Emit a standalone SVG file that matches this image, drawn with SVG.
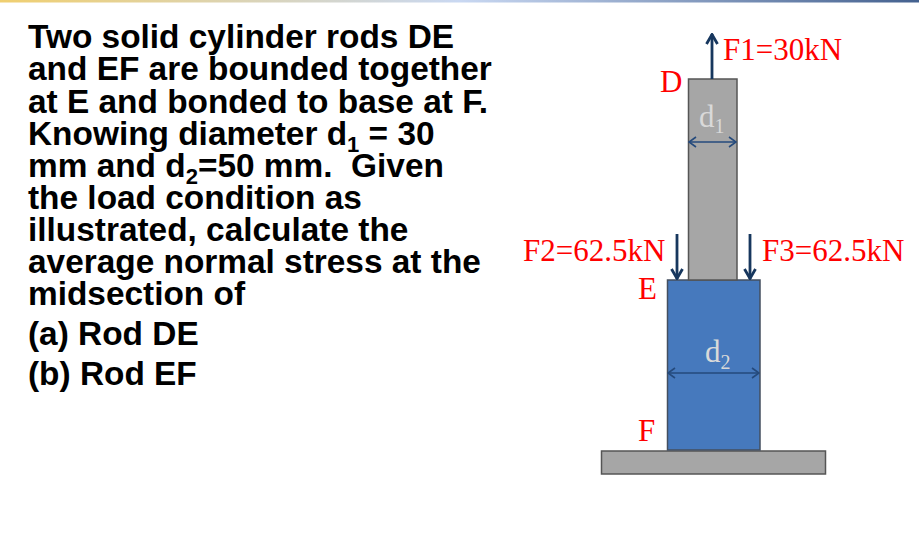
<svg xmlns="http://www.w3.org/2000/svg" width="919" height="560" viewBox="0 0 919 560">
<style>
.q{font-family:"Liberation Sans",Arial,sans-serif;font-weight:bold;font-size:33.4px;fill:#000}
.s{font-size:22px}
.pre{white-space:pre}
.r{font-family:"Liberation Serif","Times New Roman",serif;font-size:31px;fill:#f00}
.w{font-family:"Liberation Serif","Times New Roman",serif;font-size:31px;fill:#d9d9d9}
.w2{font-size:20px}
.gray{fill:#a6a6a6;stroke:#555;stroke-width:1.5}
.blue{fill:#4679bd;stroke:#444f5f;stroke-width:1.5}
.f{stroke:#17375e;stroke-width:2.8;fill:none}
.dim{stroke:#254a7c;stroke-width:1.6;fill:none}
</style>
<defs>
<linearGradient id="top" x1="0" x2="1" y1="0" y2="0">
<stop offset="0" stop-color="#f0cf70"/>
<stop offset="0.5" stop-color="#c9d8f2"/>
<stop offset="1" stop-color="#44618f"/>
</linearGradient>
<marker id="h" viewBox="0 0 14 14" refX="13" refY="7" markerWidth="14" markerHeight="14" markerUnits="userSpaceOnUse" orient="auto-start-reverse">
<path d="M3 1.500L12.500 7L3 12.500" fill="none" stroke="#17375e" stroke-width="2.8"/>
</marker>
<marker id="d" viewBox="0 0 12 12" refX="11" refY="6" markerWidth="12" markerHeight="12" markerUnits="userSpaceOnUse" orient="auto-start-reverse">
<path d="M4 1L11 6L4 11" fill="none" stroke="#254a7c" stroke-width="1.6"/>
</marker>
</defs>
<rect width="919" height="560" fill="#fff"/>
<rect width="919" height="2.500" fill="url(#top)"/>
<g id="problem-text">
<text class="q"><tspan x="28" y="48">Two solid cylinder rods DE</tspan><tspan x="28" y="80">and EF are bounded together</tspan><tspan x="28" y="112.500">at E and bonded to base at F.</tspan><tspan x="28" y="145">Knowing diameter d</tspan><tspan class="s" dy="7">1</tspan><tspan dy="-7"> = 30</tspan><tspan x="28" y="177">mm and d</tspan><tspan class="s" dy="7">2</tspan><tspan class="pre" dy="-7">=50 mm.  Given</tspan><tspan x="28" y="208.500">the load condition as</tspan><tspan x="28" y="241">illustrated, calculate the</tspan><tspan x="28" y="273">average normal stress at the</tspan><tspan x="28" y="305">midsection of</tspan><tspan x="28" y="345">(a) Rod DE</tspan><tspan x="28" y="385">(b) Rod EF</tspan></text>
</g>
<g id="base"><rect class="gray" x="601.500" y="451" width="224" height="23"/></g>
<g id="rod-EF"><rect class="blue" x="667.500" y="280" width="92.500" height="170"/></g>
<g id="rod-DE"><rect class="gray" x="688.500" y="79" width="48.500" height="201"/></g>
<g id="connectors">
<path class="f" d="M712 79V34" marker-end="url(#h)"/>
<path class="f" d="M677 234V279" marker-end="url(#h)"/>
<path class="f" d="M750 234V279" marker-end="url(#h)"/>
<path class="dim" d="M689 142H736" marker-start="url(#d)" marker-end="url(#d)"/>
<path class="dim" d="M668 373H759" marker-start="url(#d)" marker-end="url(#d)"/>
</g>
<g id="labels">
<text class="r" x="723" y="60">F1=30kN</text>
<text class="r" x="660" y="92">D</text>
<text class="r" x="523" y="261">F2=62.5kN</text>
<text class="r" x="762" y="261">F3=62.5kN</text>
<text class="r" x="638" y="299">E</text>
<text class="r" x="638" y="441">F</text>
<text class="w" x="699" y="127">d<tspan class="w2" dy="6">1</tspan></text>
<text class="w" x="705" y="362">d<tspan class="w2" dy="7">2</tspan></text>
</g>
</svg>
